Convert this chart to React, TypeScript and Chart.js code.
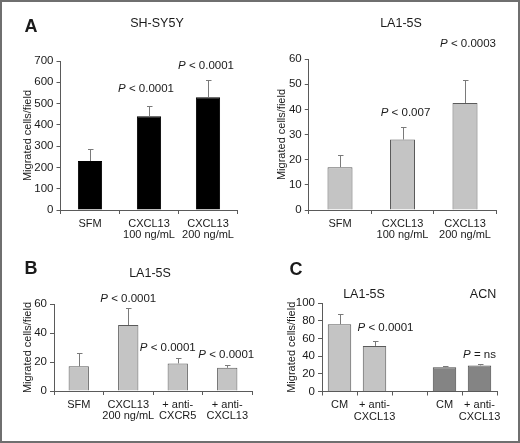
import React, { useEffect, useRef } from "react";
import { Chart, registerables } from "chart.js";

Chart.register(...registerables);

const FONT = '"Liberation Sans", Arial, Helvetica, sans-serif';

// ---------- Panel A (left): SH-SY5Y ----------
const aLeftCategories = [["SFM"], ["CXCL13", "100 ng/mL"], ["CXCL13", "200 ng/mL"]];
const aLeftValues = [230, 440, 530];
const aLeftErrors = [55, 50, 80];
const aLeftPIndex = [1, 2];
const aLeftPText = ["< 0.0001", "< 0.0001"];
const aLeftPAt = [568, 676];
const aLeftYMax = 700;
const aLeftYStep = 100;

// ---------- Panel A (right): LA1-5S ----------
const aRightCategories = [["SFM"], ["CXCL13", "100 ng/mL"], ["CXCL13", "200 ng/mL"]];
const aRightValues = [17, 28, 42.5];
const aRightErrors = [5, 5, 9];
const aRightPIndex = [1, 2];
const aRightPText = ["< 0.007", "< 0.0003"];
const aRightPAt = [38.5, 66];
const aRightYMax = 60;
const aRightYStep = 10;

// ---------- Panel B: LA1-5S ----------
const bCategories = [["SFM"], ["CXCL13", "200 ng/mL"], ["+ anti-", "CXCR5"], ["+ anti-", "CXCL13"]];
const bValues = [17, 45.5, 19, 16];
const bErrors = [9.5, 11.5, 3.5, 2];
const bPIndex = [1, 2, 3];
const bPText = ["< 0.0001", "< 0.0001", "< 0.0001"];
const bPAt = [63.5, 30, 25];
const bYMax = 60;
const bYStep = 10;

// ---------- Panel C: LA1-5S / ACN ----------
const cCategories = [["CM"], ["+ anti-", "CXCL13"], [""], ["CM"], ["+ anti-", "CXCL13"]];
const cValues = [76, 51.5, null, 27.5, 29.5];
const cErrors = [12, 5.5, null, 1, 2];
const cGroups = ["LA1-5S", "LA1-5S", "", "ACN", "ACN"];
const cPIndex = [1, 4];
const cPText = ["< 0.0001", "= ns"];
const cPAt = [72, 41];
const cYMax = 100;
const cYStep = 20;

// ---------- styles ----------
const BLACK = "#000000";
const LIGHT = "#c4c4c4";
const DARK = "#848484";
const BORDER = "#5a5a5a";
const AXIS = "#5a5a5a";
const ERR = "#7a7a7a";
const TEXT = "#1a1a1a";

const annotPlugin = {
  id: "annot",
  afterDatasetsDraw(chart: any, _args: any, opts: any) {
    const { ctx } = chart;
    const meta = chart.getDatasetMeta(0);
    const ys = chart.scales.y;
    const data = chart.data.datasets[0].data;
    ctx.save();
    ctx.strokeStyle = ERR;
    ctx.lineWidth = 1;
    meta.data.forEach((bar: any, i: number) => {
      const v = data[i];
      const e = opts.errors[i];
      if (v == null || e == null) return;
      const x = Math.round(bar.x) + 0.5;
      const y0 = ys.getPixelForValue(v);
      const y1 = Math.round(ys.getPixelForValue(v + e)) + 0.5;
      ctx.beginPath();
      ctx.moveTo(x, y0);
      ctx.lineTo(x, y1);
      ctx.moveTo(x - 2.5, y1);
      ctx.lineTo(x + 3, y1);
      ctx.stroke();
    });
    const size = opts.pSize;
    ctx.fillStyle = TEXT;
    ctx.textBaseline = "middle";
    ctx.textAlign = "left";
    opts.pIndex.forEach((idx: number, k: number) => {
      const bar = meta.data[idx];
      const cx = bar.x + (opts.pDx[k] || 0);
      const cy = ys.getPixelForValue(opts.pAt[k]);
      const rest = " " + opts.pText[k];
      ctx.font = `italic ${size}px ${FONT}`;
      const wP = ctx.measureText("P").width;
      ctx.font = `${size}px ${FONT}`;
      const wR = ctx.measureText(rest).width;
      const x0 = cx - (wP + wR) / 2;
      ctx.font = `italic ${size}px ${FONT}`;
      ctx.fillText("P", x0, cy);
      ctx.font = `${size}px ${FONT}`;
      ctx.fillText(rest, x0 + wP, cy);
    });
    ctx.restore();
  },
};

type Spec = {
  labels: any[];
  values: (number | null)[];
  errors: (number | null)[];
  colors: string[];
  borderColors: string[];
  yMax: number;
  yStep: number;
  area: { left: number; right: number; top: number; bottom: number };
  yTitleX: number;
  barPct: number;
  pIndex: number[];
  pText: string[];
  pAt: number[];
  pDx: number[];
};

const W = 520;
const H = 443;
const X_AXIS_H = 40;
const Y_TITLE_SIZE = 11;

function makeConfig(s: Spec): any {
  const yTitleLine = Y_TITLE_SIZE * 1.2;
  const yWidth = s.area.left - (s.yTitleX - yTitleLine / 2);
  return {
    type: "bar",
    data: {
      labels: s.labels,
      datasets: [
        {
          data: s.values,
          backgroundColor: s.colors,
          borderColor: s.borderColors,
          borderWidth: 1,
          barPercentage: s.barPct,
          categoryPercentage: 1,
        },
      ],
    },
    options: {
      responsive: false,
      animation: false,
      events: [],
      layout: {
        padding: {
          left: s.area.left - yWidth,
          right: W - s.area.right,
          top: s.area.top,
          bottom: H - s.area.bottom - X_AXIS_H,
        },
      },
      plugins: {
        legend: { display: false },
        tooltip: { enabled: false },
        title: { display: false },
        annot: {
          errors: s.errors,
          pIndex: s.pIndex,
          pText: s.pText,
          pAt: s.pAt,
          pDx: s.pDx,
          pSize: 11.5,
        },
      },
      scales: {
        x: {
          type: "category",
          offset: true,
          afterFit: (sc: any) => {
            sc.height = X_AXIS_H;
          },
          grid: {
            display: true,
            offset: true,
            drawOnChartArea: false,
            drawTicks: true,
            tickLength: 4,
            color: AXIS,
          },
          border: { display: true, color: AXIS, width: 1 },
          ticks: {
            autoSkip: false,
            maxRotation: 0,
            minRotation: 0,
            padding: 4,
            color: TEXT,
            font: { family: FONT, size: 11, lineHeight: 1.05 },
          },
        },
        y: {
          type: "linear",
          min: 0,
          max: s.yMax,
          afterFit: (sc: any) => {
            sc.width = yWidth;
          },
          grid: {
            display: true,
            drawOnChartArea: false,
            drawTicks: true,
            tickLength: 4,
            color: AXIS,
          },
          border: { display: true, color: AXIS, width: 1 },
          ticks: {
            stepSize: s.yStep,
            padding: 3,
            color: TEXT,
            font: { family: FONT, size: 11.5 },
          },
          title: {
            display: true,
            text: "Migrated cells/field",
            color: TEXT,
            padding: 0,
            font: { family: FONT, size: Y_TITLE_SIZE, lineHeight: 1.2 },
          },
        },
      },
    },
    plugins: [annotPlugin],
  };
}

const specs: Spec[] = [
  {
    labels: aLeftCategories,
    values: aLeftValues,
    errors: aLeftErrors,
    colors: aLeftValues.map(() => BLACK),
    borderColors: aLeftValues.map(() => BLACK),
    yMax: aLeftYMax,
    yStep: aLeftYStep,
    area: { left: 60.5, right: 237.5, top: 61, bottom: 210 },
    yTitleX: 28,
    barPct: 0.41,
    pIndex: aLeftPIndex,
    pText: aLeftPText,
    pAt: aLeftPAt,
    pDx: [-3, -2],
  },
  {
    labels: aRightCategories,
    values: aRightValues,
    errors: aRightErrors,
    colors: aRightValues.map(() => LIGHT),
    borderColors: aRightValues.map(() => BORDER),
    yMax: aRightYMax,
    yStep: aRightYStep,
    area: { left: 308.75, right: 496.25, top: 59, bottom: 210 },
    yTitleX: 281.5,
    barPct: 0.4,
    pIndex: aRightPIndex,
    pText: aRightPText,
    pAt: aRightPAt,
    pDx: [3, 3],
  },
  {
    labels: bCategories,
    values: bValues,
    errors: bErrors,
    colors: bValues.map(() => LIGHT),
    borderColors: bValues.map(() => BORDER),
    yMax: bYMax,
    yStep: bYStep,
    area: { left: 54, right: 252, top: 304, bottom: 391 },
    yTitleX: 28,
    barPct: 0.41,
    pIndex: bPIndex,
    pText: bPText,
    pAt: bPAt,
    pDx: [0, -10, -1],
  },
  {
    labels: cCategories,
    values: cValues,
    errors: cErrors,
    colors: cGroups.map((g) => (g === "ACN" ? DARK : LIGHT)),
    borderColors: cGroups.map((g) => (g === "ACN" ? "#4a4a4a" : BORDER)),
    yMax: cYMax,
    yStep: cYStep,
    area: { left: 322, right: 497, top: 303, bottom: 391.5 },
    yTitleX: 292,
    barPct: 0.67,
    pIndex: cPIndex,
    pText: cPText,
    pAt: cPAt,
    pDx: [11, 0],
  },
];

function ChartLayer({ spec }: { spec: Spec }) {
  const ref = useRef<HTMLCanvasElement | null>(null);
  useEffect(() => {
    if (!ref.current) return;
    const chart = new Chart(ref.current, makeConfig(spec));
    return () => chart.destroy();
  }, [spec]);
  return (
    <canvas
      ref={ref}
      width={W}
      height={H}
      style={{ position: "absolute", left: 0, top: 0, width: W, height: H, display: "block" }}
    />
  );
}

function Label({ x, y, size, bold, children }: any) {
  return (
    <div
      style={{
        position: "absolute",
        left: x,
        top: y,
        transform: "translate(-50%, -50%)",
        whiteSpace: "nowrap",
        lineHeight: 1,
        fontSize: size,
        fontWeight: bold ? 700 : 400,
        color: TEXT,
        fontFamily: FONT,
      }}
    >
      {children}
    </div>
  );
}

export default function App() {
  return (
    <div
      style={{
        position: "fixed",
        left: 0,
        top: 0,
        width: W,
        height: H,
        background: "#ffffff",
        overflow: "hidden",
        fontFamily: FONT,
      }}
    >
      {specs.map((s, i) => (
        <ChartLayer key={i} spec={s} />
      ))}
      <Label x={31} y={26} size={18} bold>A</Label>
      <Label x={31} y={268} size={18} bold>B</Label>
      <Label x={296} y={269} size={18} bold>C</Label>
      <Label x={157} y={23} size={12.5}>SH-SY5Y</Label>
      <Label x={401} y={23} size={12.5}>LA1-5S</Label>
      <Label x={150} y={273} size={12.5}>LA1-5S</Label>
      <Label x={364} y={294} size={12.5}>LA1-5S</Label>
      <Label x={483} y={294} size={12.5}>ACN</Label>
      <div
        style={{
          position: "absolute",
          left: 0,
          top: 0,
          width: W,
          height: H,
          border: "2px solid #6f6f6f",
          boxSizing: "border-box",
          pointerEvents: "none",
        }}
      />
    </div>
  );
}
